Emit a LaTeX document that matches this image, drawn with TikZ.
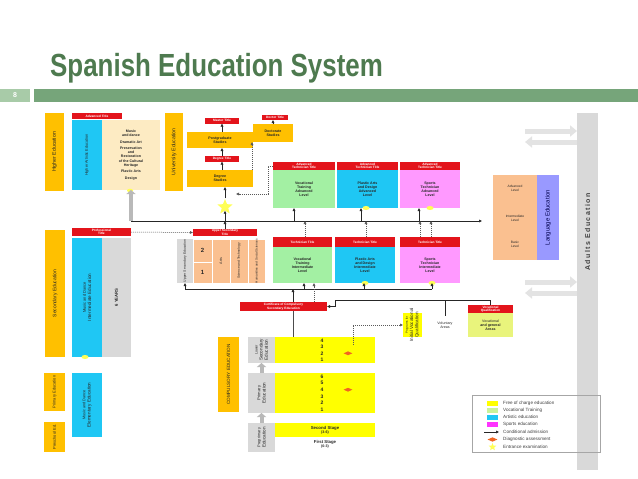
\documentclass[tikz,border=0pt]{standalone}
\usepackage{fontspec}
\setmainfont{Liberation Sans}
\newfontfamily\spacedfont[LetterSpace=20]{Liberation Sans}
\usetikzlibrary{shapes.geometric,arrows.meta,calc}
\definecolor{goldB}{HTML}{FFC000}
\definecolor{cyanB}{HTML}{1FC7F4}
\definecolor{greenB}{HTML}{A3F0A3}
\definecolor{greenL}{HTML}{C9F29A}
\definecolor{magB}{HTML}{FF99FF}
\definecolor{magL}{HTML}{FF33FF}
\definecolor{yelB}{HTML}{FFFF00}
\definecolor{redT}{HTML}{E3141B}
\definecolor{beigeB}{HTML}{FDEBC3}
\definecolor{salmonB}{HTML}{FAC090}
\definecolor{purpB}{HTML}{9999FF}
\definecolor{greyB}{HTML}{D9D9D9}
\definecolor{vqG}{HTML}{E9F47C}
\definecolor{titleG}{HTML}{4E7A4F}
\definecolor{barG}{HTML}{76A57A}
\definecolor{boxG}{HTML}{A8CBA8}
\definecolor{orangeD}{HTML}{F26522}
\definecolor{starY}{HTML}{FFFF55}
\tikzset{
 bx/.style={inner sep=0pt, outer sep=0pt, align=center, font=\fontsize{3.6}{4.1}\selectfont\bfseries, text=black!85},
 rtx/.style={rotate=90, inner sep=0pt, align=center, font=\fontsize{4.6}{5.2}\selectfont, text=black!85},
 redtitle/.style={bx, fill=redT, text=white, font=\fontsize{3.2}{3.6}\selectfont\bfseries},
 arr/.style={-{Latex[length=3pt,width=3pt]}, line width=0.5pt, black!85},
 darr/.style={arr, gray!70!black, dash pattern=on 1pt off 1pt},
 garr/.style={line width=4pt, gray!55, -{Triangle[length=4pt,width=9pt]}},
 bigarr/.style={line width=5pt, gray!22, -{Triangle[length=7pt,width=11pt]}},
 ydot/.style={fill=starY},
 legtxt/.style={anchor=west, inner sep=0pt, font=\fontsize{4.6}{5}\selectfont, text=black!75},
}
\newcommand\bxx[7]{\node[bx,fill=#6,minimum width=#4pt,minimum height=#5pt] (#1) at ({#2+#4/2},{#3+#5/2}) {#7};}
\newcommand\rbx[7]{\node[bx,fill=#6,minimum width=#4pt,minimum height=#5pt] (#1) at ({#2+#4/2},{#3+#5/2}) {};\node[rtx] (#1-l) at (#1.center) {#7};}
\newcommand\rtt[6]{\node[redtitle,minimum width=#4pt,minimum height=#5pt] (#1) at ({#2+#4/2},{#3+#5/2}) {#6};}
\begin{document}
\begin{tikzpicture}[x=1pt,y=-1pt]
\useasboundingbox (0,0) rectangle (638,479);
\fill[white] (0,0) rectangle (638,479);
% title and bar
\node[anchor=base west, inner sep=0pt, text=titleG, font=\fontsize{32}{36}\selectfont\bfseries] (title) at (50,76) {\scalebox{0.81}[1]{Spanish Education System}};
\fill[barG] (34,89) rectangle (638,102);
\fill[boxG] (0,89) rectangle (30,102);
\node[text=white, font=\bfseries\fontsize{7}{8}\selectfont] (pg) at (15,95.5) {8};

% ---------- Higher education ----------
\rbx{heO}{45}{113}{19}{78}{goldB}{\fontsize{5.2}{6}\selectfont Higher Education}
\rtt{haeT}{72}{113}{50}{6}{Advanced Title}
\rbx{haeB}{72}{120}{30}{70}{cyanB}{\fontsize{3.8}{4.3}\selectfont Higher Artistic Education}
\bxx{haeC}{102}{120}{58}{70}{beigeB}{Music\\and dance\\[2.5pt]Dramatic Art\\[2.5pt]Preservation\\and\\Restoration\\of the Cultural\\Heritage\\[2.5pt]Plastic Arts\\[2.5pt]Design}
\fill[ydot] (130,190.5) ellipse (3 and 1.8);

% ---------- University ----------
\rbx{ueO}{165}{113}{18}{78}{goldB}{\fontsize{5.2}{6}\selectfont University Education}
\rtt{masT}{205}{118}{34}{5.5}{Master Title}
\rtt{docT}{262}{114.5}{26}{5.5}{Doctor Title}
\bxx{pgS}{187}{132}{66}{16}{goldB}{Postgraduate\\Studies}
\bxx{docS}{253}{124}{40}{18}{goldB}{Doctorate\\Studies}
\rtt{degT}{205}{156}{34}{5.5}{Degree Title}
\bxx{degS}{187}{170}{66}{17}{goldB}{Degree\\Studies}
\node[star, star points=5, star point ratio=2.3, fill=starY, minimum size=16pt, inner sep=0pt] (star) at (225,207) {};
\draw[arr] ([xshift=2pt]pgS.north) -- ([xshift=2pt]pgS.north |- masT.south);
\draw[arr] (docS.north) -- (docS.north |- docT.south);
\draw[arr] (degT.north) -- (degT.north |- pgS.south);
\draw[arr] ([xshift=2pt]degS.north) -- ([xshift=2pt]degS.north |- degT.south);
\draw[darr] ([xshift=-1pt]degS.north east) -- ([xshift=-1pt]degS.north east |- docS.south);
\draw[arr] (star.north) -- (star.north |- degS.south);

% ---------- Advanced technician ----------
\rtt{aT1}{273}{162}{62}{8}{Advanced\\Technician Title}
\rtt{aT2}{337}{162}{61}{8}{Advanced\\Technician Title}
\rtt{aT3}{400}{162}{60}{8}{Advanced\\Technician Title}
\bxx{vtA}{273}{170}{62}{38}{greenB}{Vocational\\Training\\Advanced\\Level}
\bxx{padA}{337}{170}{61}{38}{cyanB}{Plastic Arts\\and Design\\Advanced\\Level}
\bxx{stA}{400}{170}{60}{38}{magB}{Sports\\Technician\\Advanced\\Level}
\fill[ydot] (366,208) ellipse (3.5 and 2);
\fill[ydot] (430,208) ellipse (3.5 and 2);
\coordinate (dvEnd) at (236,194);
\draw[darr] (aT1.west) -- ++(-5,0) |- (dvEnd);

% ---------- main line y=221 ----------
\coordinate (L1a) at (131,221);
\coordinate (L1b) at (482,221);
\draw[arr] (L1a) -- (L1b);
\draw[garr] (L1a) -- (L1a |- haeC.south);
\draw[arr] (star.south |- L1a) -- (star.south);
\draw[arr] ([xshift=-10pt]vtA.south |- L1a) -- ([xshift=-10pt]vtA.south);
\draw[arr] ([xshift=-6.5pt]padA.south |- L1a) -- ([xshift=-6.5pt]padA.south);
\draw[arr] ([xshift=-11pt]stA.south |- L1a) -- ([xshift=-11pt]stA.south);

% ---------- Technician ----------
\rtt{tT1}{273}{237}{59}{10}{Technician Title}
\rtt{tT2}{335}{237}{60}{10}{Technician Title}
\rtt{tT3}{400}{237}{60}{10}{Technician Title}
\bxx{vtI}{273}{247}{59}{36}{greenB}{Vocational\\Training\\Intermediate\\Level}
\bxx{padI}{335}{247}{60}{36}{cyanB}{Plastic Arts\\and Design\\Intermediate\\Level}
\bxx{stI}{400}{247}{60}{36}{magB}{Sports\\Technician\\Intermediate\\Level}
\fill[ydot] (365,283) ellipse (3.5 and 2);
\fill[ydot] (432,283) ellipse (3.5 and 2);
\draw[darr] ([xshift=2.5pt]tT1.north) -- ([xshift=2.5pt]tT1.north |- L1a);
\draw[darr] ([xshift=1pt]tT2.north) -- ([xshift=1pt]tT2.north |- L1a);
\draw[darr] ([xshift=-10pt]tT3.north) -- ([xshift=-10pt]tT3.north |- L1a);
\draw[darr] ([xshift=1pt]tT3.north) -- ([xshift=1pt]tT3.north |- L1a);

% ---------- Upper secondary ----------
\rtt{usT}{193}{229}{64}{7}{Upper Secondary\\Title}
\rbx{usG}{177}{239}{16}{44}{greyB}{\fontsize{3.4}{4}\selectfont Upper Secondary Education}
\node[bx, fill=salmonB, draw=white, line width=0.4pt, minimum width=19pt, minimum height=23pt, font=\fontsize{6}{7}\selectfont\bfseries] (b2) at (202.5,250.5) {2};
\node[bx, fill=salmonB, draw=white, line width=0.4pt, minimum width=19pt, minimum height=21pt, font=\fontsize{6}{7}\selectfont\bfseries] (b1) at (202.5,272.5) {1};
\node[bx, fill=salmonB, draw=white, line width=0.4pt, minimum width=18pt, minimum height=44pt] (arts) at (221,261) {};
\node[rtx, font=\fontsize{3.6}{4}\selectfont] (arts-l) at (arts.center) {Arts};
\node[bx, fill=salmonB, draw=white, line width=0.4pt, minimum width=18pt, minimum height=44pt] (sci) at (239,261) {};
\node[rtx, font=\fontsize{3.3}{4}\selectfont] (sci-l) at (sci.center) {Science and Technology};
\node[bx, fill=salmonB, draw=white, line width=0.4pt, minimum width=17pt, minimum height=44pt] (hum) at (256.5,261) {};
\node[rtx, font=\fontsize{3.1}{4}\selectfont] (hum-l) at (hum.center) {Humanities and Social Sciences};
\draw[arr] (usT.north) -- (usT.north |- L1a);

% ---------- Secondary (left) ----------
\rbx{secO}{45}{230}{20}{127}{goldB}{\fontsize{5}{6}\selectfont Secondary Education}
\rtt{profT}{72}{228}{59}{8}{Professional\\Title}
\rbx{mdI}{72}{238}{30}{119}{cyanB}{\fontsize{4}{4.6}\selectfont Music and Dance\\Intermediate Education}
\rbx{yrs}{102}{238}{29}{119}{greyB}{\fontsize{4.2}{5}\selectfont\bfseries 6 YEARS}
\fill[ydot] (85,357) ellipse (3.5 and 2);
\draw[darr] (profT.east) -- (usT.west);

% ---------- line y=289 ----------
\coordinate (L2a) at (185,289);
\coordinate (L2b) at (432,289);
\draw[line width=0.5pt, black!85] (L2a) -- (L2b);
\draw[arr] (L2a) -- (usG.south);
\draw[arr] ([xshift=1.5pt]vtI.south |- L2a) -- ([xshift=1.5pt]vtI.south);
\draw[arr] ([xshift=-1pt]padI.south |- L2a) -- ([xshift=-1pt]padI.south);
\draw[arr] (L2b) -- (L2b |- stI.south);

% ---------- certificate ----------
\rtt{cert}{240}{302}{87}{9}{Certificate of Compulsory\\Secondary Education}
\draw[darr] ([xshift=30.5pt]cert.north) -- ([xshift=30.5pt]cert.north |- vtI.south);
\draw[arr] ([xshift=9.5pt]cert.north) -- ([xshift=9.5pt]cert.north |- L2a);

% ---------- vocational qualification ----------
\rtt{vqT}{468}{305}{45}{8}{Vocational\\Qualification}
\bxx{vqB}{468}{313}{45}{24}{vqG}{\mdseries Vocational\\and general\\Areas}
\rbx{pivq}{403}{313}{19}{24}{yelB}{\fontsize{3}{3.5}\selectfont Programs for\\Initial Vocational\\Qualification}
\node[bx, font=\fontsize{3.6}{4.1}\selectfont] (volA) at (445,325) {Voluntary\\Areas};
\coordinate (vqbend) at (335,300);
\draw[arr] (vqT.north) |- (vqbend) |- (cert.east);
\draw[line width=0.5pt, black!85] ($(volA.north)+(0,-6)$) -- (volA.north |- vqbend);

% ---------- compulsory ----------
\rbx{compO}{218}{337}{21}{75}{goldB}{\fontsize{4.6}{5.2}\selectfont COMPULSORY EDUCATION}
\rbx{lsG}{248}{337}{27}{26}{greyB}{\fontsize{3.6}{4}\selectfont Lower\\Secondary\\Education}
\bxx{lsY}{275}{337}{100}{26}{yelB}{}
\rbx{prG}{248}{373}{27}{40}{greyB}{\fontsize{4.2}{4.8}\selectfont Primary\\Education}
\bxx{prY}{275}{373}{100}{40}{yelB}{}
\rbx{ppG}{248}{423}{27}{29}{greyB}{\fontsize{4}{4.6}\selectfont Preprimary\\Education}
\bxx{ppY}{275}{423}{100}{14}{yelB}{\fontsize{4.3}{4.8}\selectfont Second Stage\\(3-6)}
\bxx{ppW}{275}{437}{100}{15}{white}{\fontsize{4.3}{4.8}\selectfont First Stage\\(0-3)}
\tikzset{num/.style={bx, font=\fontsize{5}{5}\selectfont\bfseries}}
\node[num] (ls4) at (322,340.3) {4};
\node[num] (ls3) at (322,346.8) {3};
\node[num] (ls2) at (322,353.3) {2};
\node[num] (ls1) at (322,359.8) {1};
\node[num] (pr6) at (322,376.3) {6};
\node[num] (pr5) at (322,383) {5};
\node[num] (pr4) at (322,389.7) {4};
\node[num] (pr3) at (322,396.3) {3};
\node[num] (pr2) at (322,403) {2};
\node[num] (pr1) at (322,409.7) {1};
\node[diamond, aspect=2.2, fill=orangeD, minimum width=9pt, minimum height=4pt, inner sep=0pt] (dg1) at (348,353.3) {};
\node[diamond, aspect=2.2, fill=orangeD, minimum width=9pt, minimum height=4pt, inner sep=0pt] (dg2) at (348,389.7) {};
\draw[garr] (prG.north) -- (lsG.south);
\draw[garr] (ppG.north) -- (prG.south);
\draw[line width=0.5pt, black!70] ([xshift=-32pt]lsY.north) -- ([xshift=9.5pt]cert.south);
\draw[darr] ([xshift=28pt,yshift=-8pt]lsY.north) |- (pivq.west);

% ---------- primary / preschool left ----------
\rbx{prO}{44}{373}{21}{38}{goldB}{\fontsize{4}{5}\selectfont Primary Education}
\rbx{psO}{44}{422}{21}{30}{goldB}{\fontsize{4}{5}\selectfont Preschool Ed.}
\rbx{mdE}{72}{373}{30}{64}{cyanB}{\fontsize{3.8}{4.4}\selectfont Music and Dance\\Elementary Education}

% ---------- language ----------
\bxx{lang}{493}{175}{44}{85}{salmonB}{}
\node[bx, font=\fontsize{3.3}{3.8}\selectfont] (lAdv) at (515,188) {Advanced\\Level};
\node[bx, font=\fontsize{3.3}{3.8}\selectfont] (lInt) at (515,218) {Intermediate\\Level};
\node[bx, font=\fontsize{3.3}{3.8}\selectfont] (lBas) at (515,244) {Basic\\Level};
\rbx{langP}{537}{175}{22}{85}{purpB}{\fontsize{6}{7}\selectfont\color{blue!30!black}Language Education}

% ---------- adults ----------
\bxx{adB}{577}{113}{21}{357}{greyB}{}
\node[rotate=90, inner sep=0pt, font=\spacedfont\bfseries\fontsize{7}{8}\selectfont, text=black!75] (adL) at (587.5,232) {Adults Education};
\coordinate (ga1) at (525,131);
\coordinate (ga2) at (577,142);
\coordinate (ga3) at (525,282);
\coordinate (ga4) at (577,293);
\draw[bigarr] (ga1) -- (ga1 -| adB.west);
\draw[bigarr] (ga2) -- (ga2 -| ga1);
\draw[bigarr] (ga3) -- (ga3 -| adB.west);
\draw[bigarr] (ga4) -- (ga4 -| ga3);

% ---------- legend ----------
\node[draw=gray!70, line width=0.4pt, minimum width=128pt, minimum height=57pt, inner sep=0pt] (leg) at (536,423.5) {};
\fill[yelB] (487,400.5) rectangle (498,405.5);
\fill[greenL] (487,407.5) rectangle (498,412.5);
\fill[cyanB] (487,414.5) rectangle (498,419.5);
\fill[magL] (487,421.5) rectangle (498,426.5);
\coordinate (lgA) at (484,432);
\coordinate (lgB) at (499,432);
\draw[arr] (lgA) -- (lgB);
\node[diamond, aspect=2.2, fill=orangeD, minimum width=10pt, minimum height=4.5pt, inner sep=0pt] (lgD) at (492.5,439.5) {};
\node[star, star points=5, star point ratio=2.3, fill=starY, minimum size=8pt, inner sep=0pt] (lgS) at (492.5,447) {};
\node[legtxt] (t1) at (503,403) {Free of charge education};
\node[legtxt] (t2) at (503,410) {Vocational Training};
\node[legtxt] (t3) at (503,417) {Artistic education};
\node[legtxt] (t4) at (503,424) {Sports education};
\node[legtxt] (t5) at (503,432) {Conditional admission};
\node[legtxt] (t6) at (503,439.5) {Diagnostic assessment};
\node[legtxt] (t7) at (503,447) {Entrance examination};
\end{tikzpicture}
\end{document}
